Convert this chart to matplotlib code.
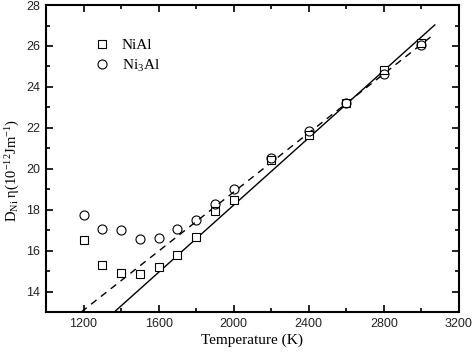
import matplotlib
matplotlib.use("Agg")
import matplotlib.pyplot as plt
from matplotlib.ticker import MultipleLocator, FixedLocator, FixedFormatter

plt.rcParams['font.family'] = ['Liberation Sans', 'DejaVu Sans']
plt.rcParams['mathtext.fontset'] = 'custom'
plt.rcParams['mathtext.rm'] = 'Liberation Serif'
plt.rcParams['mathtext.it'] = 'Liberation Serif:italic'

# Data
temps = [1200, 1300, 1400, 1500, 1600, 1700, 1800, 1900, 2000, 2200, 2400, 2600, 2800, 3000]
nial = [16.50, 15.31, 14.90, 14.84, 15.20, 15.77, 16.66, 17.93, 18.46, 20.45, 21.63, 23.20, 24.84, 26.15]
ni3al = [17.73, 17.08, 17.02, 16.55, 16.61, 17.06, 17.52, 18.30, 18.99, 20.53, 21.83, 23.21, 24.64, 26.07]

# Fit lines (endpoints)
solid_T = [1364, 3072]
solid_v = [13.0, 27.03]
dash_T = [1188, 3072]
dash_v = [13.0, 26.6]

xticks = [1200, 1600, 2000, 2400, 2800, 3200]
yticks = [14, 16, 18, 20, 22, 24, 26, 28]

fig = plt.figure(figsize=(4.74, 3.52), dpi=100)
ax = fig.add_axes([0.097, 0.1136, 0.871, 0.872])

ax.plot(solid_T, solid_v, color='black', lw=1.0, ls='-')
ax.plot(dash_T, dash_v, color='black', lw=1.0, ls=(0, (5, 4)))
ax.plot(temps, nial, ls='none', marker='s', ms=5.5, mfc='white', mec='black', mew=0.8, label='NiAl', zorder=3)
ax.plot(temps, ni3al, ls='none', marker='o', ms=6.5, mfc='none', mec='black', mew=0.8, label='Ni$_3$Al', zorder=3)

ax.set_xlim(1000, 3200)
ax.set_ylim(13, 28)
ax.xaxis.set_major_locator(FixedLocator(xticks))
ax.xaxis.set_major_formatter(FixedFormatter([str(t) for t in xticks]))
ax.xaxis.set_minor_locator(FixedLocator([1400, 1800, 2200, 2600, 3000]))
ax.yaxis.set_major_locator(FixedLocator(yticks))
ax.yaxis.set_major_formatter(FixedFormatter([str(t) for t in yticks]))
ax.yaxis.set_minor_locator(MultipleLocator(1))
ax.tick_params(which='both', direction='in', top=True, right=True, width=1.2)
ax.tick_params(which='major', length=5, labelsize=9, labelcolor='#222222', pad=4)
ax.tick_params(which='minor', length=3)
for s in ax.spines.values():
    s.set_linewidth(1.5)
fig.canvas.draw()
for lab in ax.get_xticklabels() + ax.get_yticklabels():
    lab.set_fontfamily('Liberation Sans')

ax.set_xlabel('Temperature (K)', fontfamily='Liberation Serif', fontsize=11, labelpad=3)
ax.set_ylabel(r'D$_{\mathrm{Ni}}$ η(10$^{-12}$Jm$^{-1}$)', fontfamily='Liberation Serif', fontsize=10.5)
ax.yaxis.set_label_coords(-0.058, 0.46)

leg = ax.legend(loc='upper left', bbox_to_anchor=(0.08, 0.935), frameon=False,
                prop={'family': 'Liberation Serif', 'size': 11},
                handletextpad=0.7, labelspacing=0.35, handlelength=1.2)

fig.savefig('out.png', dpi=100)
